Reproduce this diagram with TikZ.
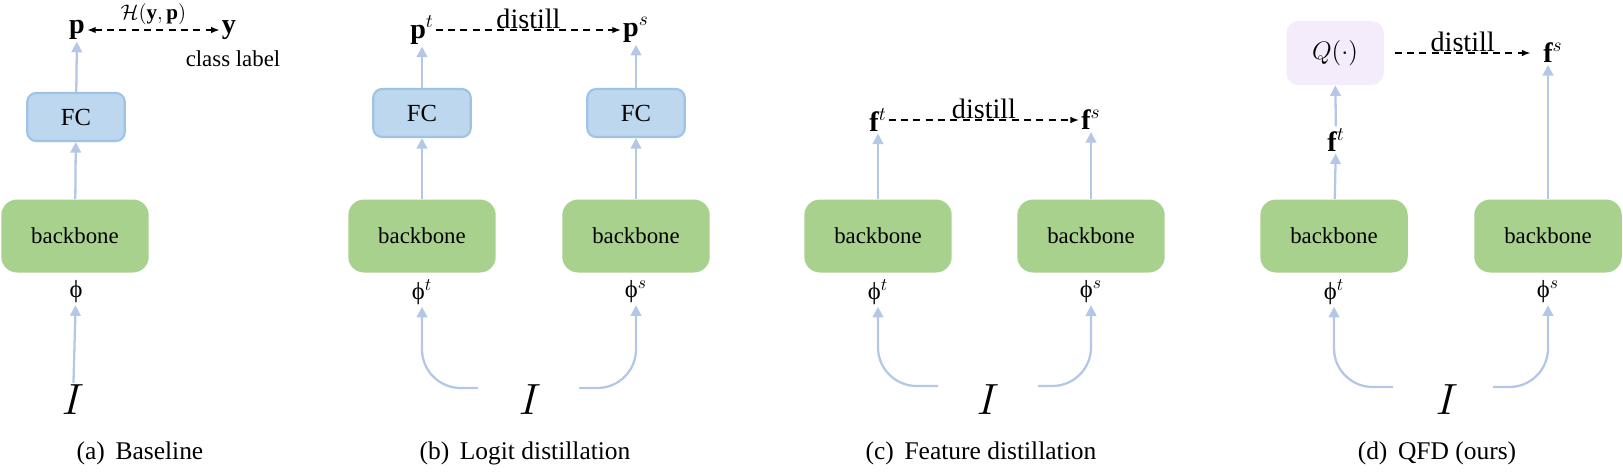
\documentclass[tikz,border=0pt]{standalone}
\usepackage{fontspec}
\setmainfont{Liberation Serif}
\usetikzlibrary{arrows.meta}

\definecolor{bbgreen}{HTML}{A9D18E}
\definecolor{fcblue}{HTML}{BDD7EE}
\definecolor{fcedge}{HTML}{9DC3E6}
\definecolor{qpink}{HTML}{F4ECFA}
\definecolor{flowblue}{HTML}{B4C7E7}

\tikzset{%
  every backbone/.style={
    rectangle, rounded corners=9pt, fill=bbgreen,
    minimum width=2.95cm, minimum height=1.46cm,
    font=\fontsize{13}{15}\selectfont
  },
  every fc/.style={
    rectangle, rounded corners=5pt, fill=fcblue, draw=fcedge, line width=1.2pt,
    minimum width=1.95cm, minimum height=0.96cm,
    font=\fontsize{14}{16}\selectfont
  },
  every quant/.style={
    rectangle, rounded corners=7pt, fill=qpink,
    minimum width=1.95cm, minimum height=1.28cm,
    font=\fontsize{15}{17}\selectfont
  },
  sym/.style={inner sep=1pt, font=\fontsize{16}{18}\selectfont},
  param/.style={inner sep=1pt, font=\fontsize{14}{16}\selectfont},
  img/.style={inner sep=1pt, font=\fontsize{26}{28}\selectfont},
  caption/.style={font=\fontsize{14.5}{17}\selectfont},
  flow/.style={draw=flowblue, line width=1.3pt, -{Triangle[length=6pt,width=6pt]}},
  input bend/.style={flow, rounded corners=22pt},
  distill/.style={dashed, line width=1pt, dash pattern=on 4pt off 3pt, -{Latex[length=5pt]}},
}

\begin{document}
\begin{tikzpicture}[x=0.02cm, y=-0.02cm]
    \useasboundingbox (0,0) rectangle (1623,471);

    % (a)
    \node [every backbone] (bb-a) at (75,236) {backbone};
    \node [every fc] (fc-a) at (76,117) {FC};
    \node [sym] (p-a) at (77,30) {$\mathbf{p}$};
    \node [sym] (y-a) at (229,30) {$\mathbf{y}$};
    \node [font=\fontsize{13}{15}\selectfont] (lab-a) at (233,59) {class label};
    \node [param] (phi-a) at (76,292) {ϕ};
    \node [img] (I-a) at (73,400) {$I$};
    \draw [flow] (bb-a) -- (fc-a);
    \draw [flow] (fc-a) -- (p-a);
    \draw [flow] (I-a) -- (phi-a);
    \draw [distill, {Latex[length=5pt]}-{Latex[length=5pt]}] (p-a) -- (y-a)
      node [midway, above=-1pt, font=\fontsize{12}{14}\selectfont] {$\mathcal{H}(\mathbf{y},\mathbf{p})$};
    \node [caption] (cap-a) at (140,453) {(a)\, Baseline};

    % (b)
    \foreach \m/\x in {t/422,s/636} {
      \node [every backbone] (bb-b\m) at (\x,236) {backbone};
      \node [every fc] (fc-b\m) at (\x,113) {FC};
      \node [sym] (p-b\m) at (\x,30) {$\mathbf{p}^{\m}$};
      \node [param] (phi-b\m) at (\x,292) {ϕ$^{\m}$};
      \draw [flow] (bb-b\m) -- (fc-b\m);
      \draw [flow] (fc-b\m) -- (p-b\m);
    }
    \node [img] (I-b) at (530,400) {$I$};
    \coordinate (lb) at (478,388);
    \coordinate (rb) at (579,388);
    \draw [input bend] (lb) -| (phi-bt);
    \draw [input bend] (rb) -| (phi-bs);
    \draw [distill] (p-bt) -- (p-bs)
      node [midway, above=-3pt, font=\fontsize{16}{18}\selectfont] {distill};
    \node [caption] (cap-b) at (525,453) {(b)\, Logit distillation};

    % (c)
    \foreach \m/\x in {t/878,s/1091} {
      \node [every backbone] (bb-c\m) at (\x,236) {backbone};
      \node [sym] (f-c\m) at (\x,120) {$\mathbf{f}^{\m}$};
      \node [param] (phi-c\m) at (\x,292) {ϕ$^{\m}$};
      \draw [flow] (bb-c\m) -- (f-c\m);
    }
    \node [img] (I-c) at (988,400) {$I$};
    \coordinate (lc) at (938,386);
    \coordinate (rc) at (1038,386);
    \draw [input bend] (lc) -| (phi-ct);
    \draw [input bend] (rc) -| (phi-cs);
    \draw [distill] (f-ct) -- (f-cs)
      node [midway, above=-3pt, font=\fontsize{16}{18}\selectfont] {distill};
    \node [caption] (cap-c) at (981,453) {(c)\, Feature distillation};

    % (d)
    \foreach \m/\x in {t/1334,s/1548} {
      \node [every backbone] (bb-d\m) at (\x,236) {backbone};
      \node [param] (phi-d\m) at (\x,292) {ϕ$^{\m}$};
    }
    \node [sym] (f-dt) at (1336,140) {$\mathbf{f}^{t}$};
    \node [every quant] (q-d) at (1335,53) {$Q(\cdot)$};
    \node [sym] (f-ds) at (1553,53) {$\mathbf{f}^{s}$};
    \draw [flow] (bb-dt) -- (f-dt);
    \draw [flow] (f-dt) -- (q-d);
    \draw [flow] (bb-ds) -- (f-ds.south -| bb-ds);
    \node [img] (I-d) at (1447,400) {$I$};
    \coordinate (ld) at (1393,387);
    \coordinate (rd) at (1493,387);
    \draw [input bend] (ld) -| (phi-dt);
    \draw [input bend] (rd) -| (phi-ds);
    \draw [distill, shorten <=6pt, shorten >=6pt] (q-d) -- (f-ds)
      node [midway, above=-3pt, font=\fontsize{16}{18}\selectfont] {distill};
    \node [caption] (cap-d) at (1437,453) {(d)\, QFD (ours)};
\end{tikzpicture}
\end{document}
